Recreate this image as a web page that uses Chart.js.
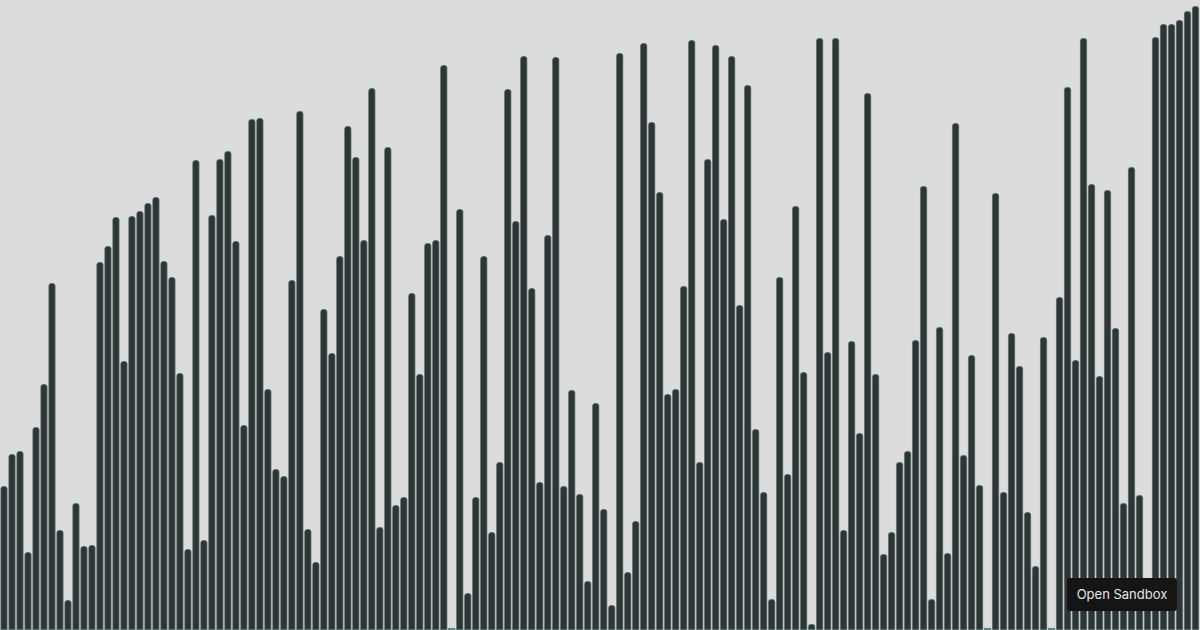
<!DOCTYPE html>
<html>
<head>
<meta charset="utf-8">
<script src="https://cdn.jsdelivr.net/npm/chart.js@4"></script>
<style>
  html, body { margin: 0; padding: 0; background: #dcdcdc; overflow: hidden; }
  #wrap { position: relative; width: 1200px; height: 630px; }
  #sandbox-btn {
    position: absolute; left: 1067px; top: 578px; width: 110px; height: 33px;
    background: #151515; color: #e6e6e6; border-radius: 3px;
    font: 13px "Inter", "Noto Sans", sans-serif; line-height: 33px; text-align: center;
  }
</style>
</head>
<body>
<div id="wrap">
  <canvas id="myChart" width="1200" height="630"></canvas>
  <div id="sandbox-btn">Open Sandbox</div>
</div>
<script>
const values = [
  144, 176, 179, 78, 203, 246, 347, 100, 30, 127,
  84, 85, 368, 384, 413, 269, 414, 419, 427, 433,
  369, 353, 257, 81, 470, 90, 415, 471, 479, 389,
  205, 511, 512, 241, 161, 154, 350, 519, 101, 68,
  321, 277, 374, 504, 473, 390, 542, 103, 483, 125,
  133, 337, 256, 387, 390, 565, 2, 421, 37, 133,
  374, 98, 168, 541, 409, 574, 342, 148, 395, 573,
  144, 240, 136, 49, 227, 121, 25, 577, 58, 109,
  587, 508, 438, 236, 241, 344, 590, 168, 471, 585,
  411, 574, 325, 545, 201, 138, 31, 353, 156, 424,
  258, 6, 592, 278, 592, 100, 289, 197, 537, 256,
  76, 98, 168, 179, 290, 444, 31, 303, 77, 507,
  175, 275, 145, 2, 437, 138, 297, 264, 118, 64,
  293, 2, 333, 543, 270, 592, 446, 254, 440, 302,
  127, 463, 135, 40, 593, 606, 606, 610, 619, 624
];
const labels = values.map((v, i) => String(i + 1));

const ctx = document.getElementById('myChart');

new Chart(ctx, {
  type: 'bar',
  data: {
    labels: labels,
    datasets: [{
      data: values,
      backgroundColor: '#333333',
      borderColor: '#5f8b8b',
      borderWidth: 1,
      borderRadius: { topLeft: 4, topRight: 4, bottomLeft: 0, bottomRight: 0 },
      borderSkipped: false,
      barPercentage: 1,
      categoryPercentage: 1,
      barThickness: 7
    }]
  },
  options: {
    responsive: false,
    animation: false,
    layout: { padding: { left: -0.5, right: 0.5, top: 0, bottom: 0 } },
    plugins: {
      legend: { display: false },
      tooltip: { enabled: false }
    },
    scales: {
      x: { display: false },
      y: { display: false, min: 0, max: 630 }
    }
  }
});
</script>
</body>
</html>
